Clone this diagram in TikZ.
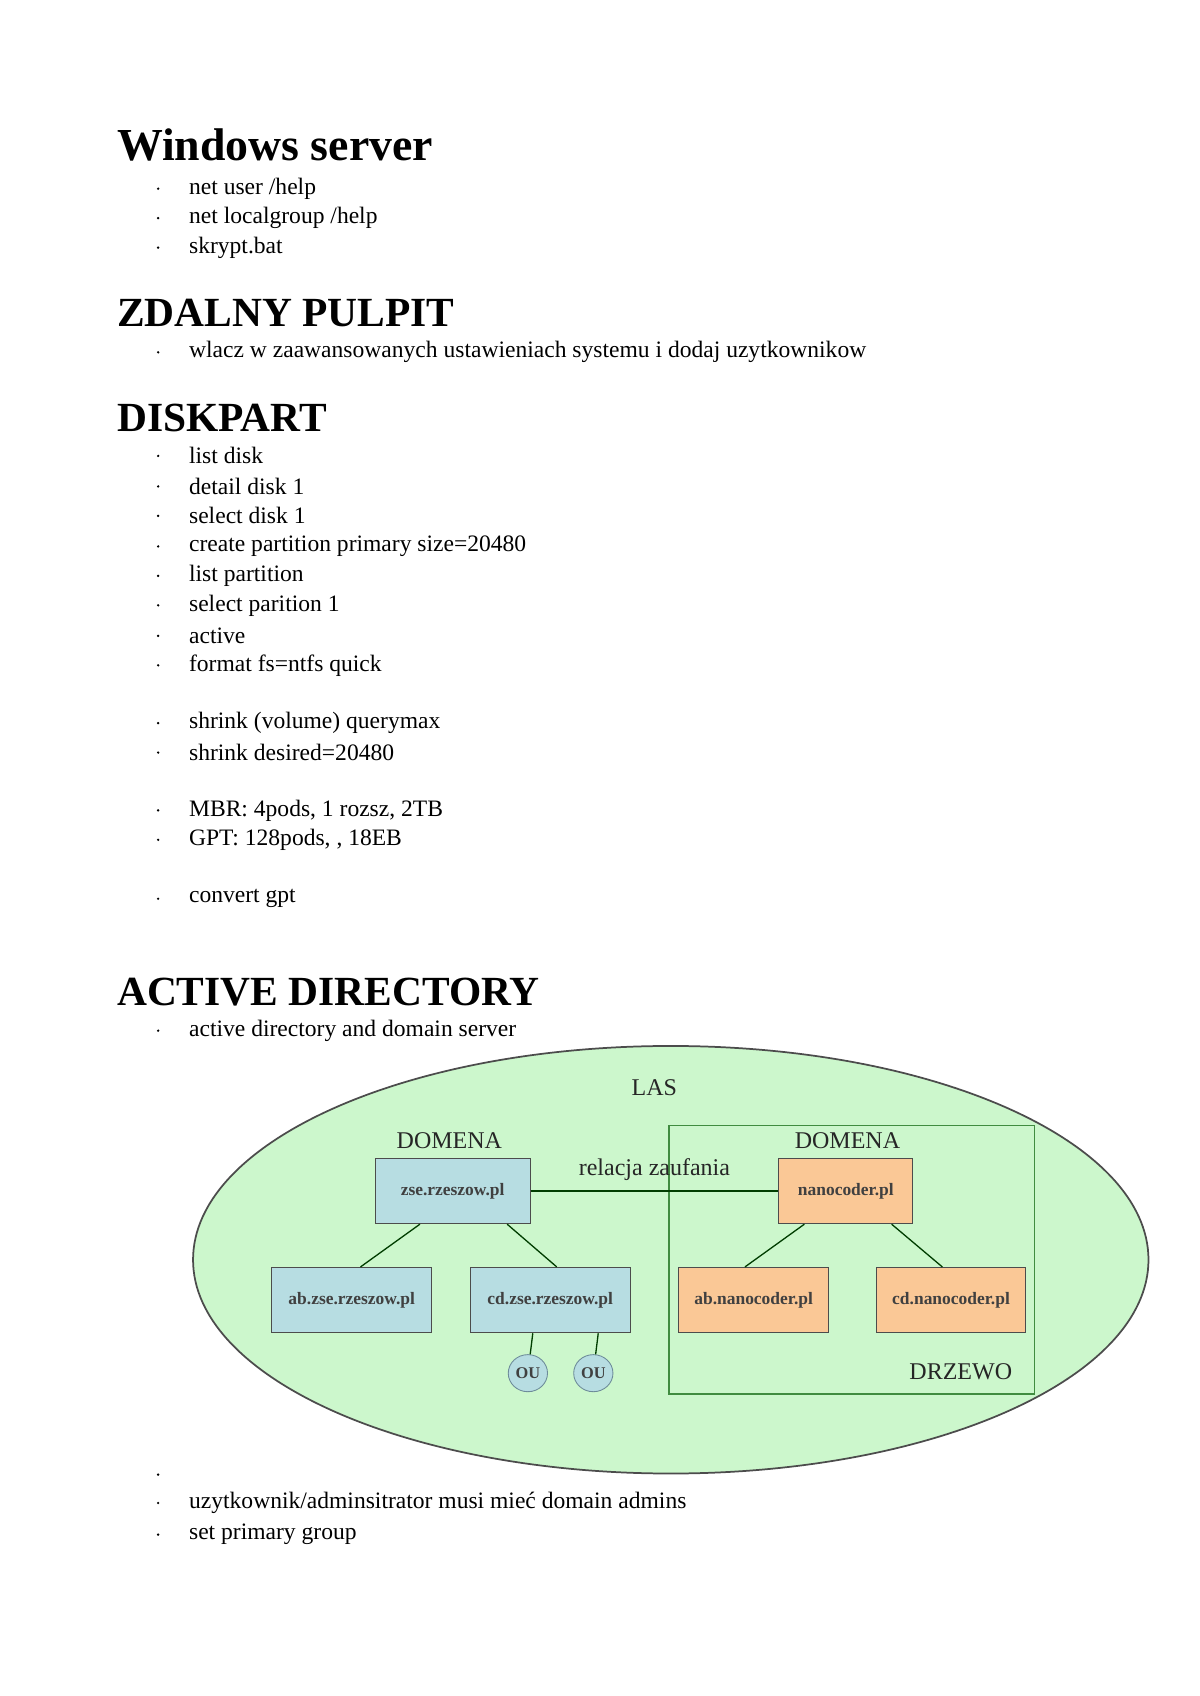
\documentclass[tikz,border=0pt]{standalone}
\usetikzlibrary{shapes.geometric}
\usepackage{fontspec}
\setmainfont{Liberation Serif}
\begin{document}
\begin{tikzpicture}[x=0.5pt,y=-0.5pt,
 head/.style={anchor=west,font=\fontsize{19}{22}\selectfont\bfseries,inner sep=0},
 txt/.style={anchor=west,font=\fontsize{10.8}{12}\selectfont,inner sep=0},
 dom/.style={draw=black!70,minimum height=30pt,inner sep=0,font=\fontsize{8}{10}\selectfont\bfseries,text=black!75},
 blue/.style={dom,fill={rgb,255:red,183;green,221;blue,226}},
 orng/.style={dom,fill={rgb,255:red,250;green,200;blue,150}},
 oubox/.style={draw=black!40!cyan!50!gray,fill={rgb,255:red,183;green,221;blue,226},ellipse,minimum width=18pt,minimum height=17pt,inner sep=0,font=\fontsize{7.5}{9}\selectfont\bfseries,text=black!75},
 lab/.style={font=\fontsize{11}{13}\selectfont,text=black!85},
 ln/.style={draw=black!60!green!60!black,line width=0.6pt}]
\useasboundingbox (0,0) rectangle (1100,1555);
\newcommand{\bul}[2]{\fill (145,#1) circle (1.2);\node[txt] at (173,#1) {#2};}
\node[head,font=\fontsize{21}{24}\selectfont\bfseries] at (107,133) {Windows server};
\bul{173}{net user /help}
\bul{200}{net localgroup /help}
\bul{227}{skrypt.bat}
\node[head] at (107,287) {ZDALNY PULPIT};
\bul{323}{wlacz w zaawansowanych ustawieniach systemu i dodaj uzytkownikow}
\node[head] at (107,383) {DISKPART};
\bul{418}{list disk}
\bul{446}{detail disk 1}
\bul{473}{select disk 1}
\bul{501}{create partition primary size=20480}
\bul{528}{list partition}
\bul{555}{select parition 1}
\bul{583}{active}
\bul{610}{format fs=ntfs quick}
\bul{663}{shrink (volume) querymax}
\bul{690}{shrink desired=20480}
\bul{743}{MBR: 4pods, 1 rozsz, 2TB}
\bul{770}{GPT: 128pods, , 18EB}
\bul{824}{convert gpt}
\node[head] at (107,910) {ACTIVE DIRECTORY};
\bul{945}{active directory and domain server}
% diagram
\draw[black!70,line width=0.8pt,fill={rgb,255:red,204;green,247;blue,204}] (615,1155) ellipse [x radius=438,y radius=196];
\node[lab] (las) at (600,997) {LAS};
\node[draw=black!40!green!50!gray,line width=0.6pt,minimum width=167.5pt,minimum height=123pt,inner sep=0] (drzewo) at (781,1155) {};
\node[lab,anchor=south east] at (935,1272) {DRZEWO};
\node[blue,minimum width=71pt] (zse) at (415,1092) {zse.rzeszow.pl};
\node[orng,minimum width=61.5pt] (nano) at (775.5,1092) {nanocoder.pl};
\node[lab,anchor=south] at (412,1060) {DOMENA};
\node[lab,anchor=south] at (777,1060) {DOMENA};
\node[blue,minimum width=73.5pt] (abz) at (322.5,1192) {ab.zse.rzeszow.pl};
\node[blue,minimum width=73.5pt] (cdz) at (504.5,1192) {cd.zse.rzeszow.pl};
\node[orng,minimum width=69pt] (abn) at (691,1192) {ab.nanocoder.pl};
\node[orng,minimum width=68pt] (cdn) at (872,1192) {cd.nanocoder.pl};
\node[oubox] (ou1) at (484,1259) {OU};
\node[oubox] (ou2) at (544,1259) {OU};
\draw[ln] (zse) -- (nano) node[pos=0.5,above=1pt,lab] {relacja zaufania};
\draw[ln] ([xshift=-15pt]zse.south) -- ([xshift=4pt]abz.north);
\draw[ln] ([xshift=25pt]zse.south) -- ([xshift=3pt]cdz.north);
\draw[ln] ([xshift=-19pt]nano.south) -- ([xshift=-4pt]abn.north);
\draw[ln] ([xshift=21pt]nano.south) -- ([xshift=-4pt]cdn.north);
\draw[ln] ([xshift=-8pt]cdz.south) -- (ou1);
\draw[ln] ([xshift=22pt]cdz.south) -- (ou2);
\bul{1352}{}
\bul{1378}{uzytkownik/adminsitrator musi mieć domain admins}
\bul{1407}{set primary group}
\end{tikzpicture}
\end{document}
